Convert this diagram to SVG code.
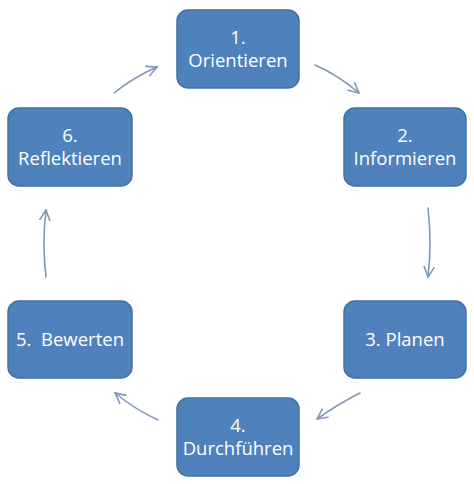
<svg xmlns="http://www.w3.org/2000/svg" width="474" height="484" viewBox="0 0 474 484">
<style>
.box{fill:#4f81bd;stroke:#41719c;stroke-width:1.5}
.t{fill:#fff;font-family:"Open Sans","Liberation Sans",sans-serif;font-size:18.5px;text-anchor:middle}
.c{fill:none;stroke:#8296b8;stroke-width:1.6;stroke-linecap:round}
</style>
<defs>
<marker id="ah" viewBox="0 0 12 12" refX="11" refY="6" markerWidth="12" markerHeight="12" markerUnits="userSpaceOnUse" orient="auto">
<path d="M1,1 L11,6 L1,11" fill="none" stroke="#8296b8" stroke-width="1.6" stroke-linecap="round"/>
</marker>
</defs>
<rect width="474" height="484" fill="#fff"/>
<g id="n1"><rect class="box" x="177" y="10" width="122" height="78" rx="11"/><text class="t" x="238" y="44">1.</text><text class="t" x="238" y="67">Orientieren</text></g>
<g id="n2"><rect class="box" x="344" y="108" width="122" height="78" rx="11"/><text class="t" x="405" y="142">2.</text><text class="t" x="405" y="165">Informieren</text></g>
<g id="n3"><rect class="box" x="344" y="301" width="122" height="77" rx="11"/><text class="t" x="405" y="346">3. Planen</text></g>
<g id="n4"><rect class="box" x="177" y="398" width="122" height="78" rx="11"/><text class="t" x="238" y="432">4.</text><text class="t" x="238" y="455">Durchführen</text></g>
<g id="n5"><rect class="box" x="8" y="301" width="124" height="77" rx="11"/><text class="t" x="70" y="346" xml:space="preserve">5.  Bewerten</text></g>
<g id="n6"><rect class="box" x="8" y="108" width="124" height="78" rx="11"/><text class="t" x="70" y="142">6.</text><text class="t" x="70" y="165">Reflektieren</text></g>
<g id="connectors">
<path class="c" d="M315,65 Q338,75 359,93" marker-end="url(#ah)"/>
<path class="c" d="M428,208 Q432,242 428,277" marker-end="url(#ah)"/>
<path class="c" d="M360,393 Q338,404 317,419" marker-end="url(#ah)"/>
<path class="c" d="M158,420 Q136,410 115,393" marker-end="url(#ah)"/>
<path class="c" d="M46,277 Q42,244 46,210" marker-end="url(#ah)"/>
<path class="c" d="M114,93 Q134,77 157,67" marker-end="url(#ah)"/>
</g>
</svg>
